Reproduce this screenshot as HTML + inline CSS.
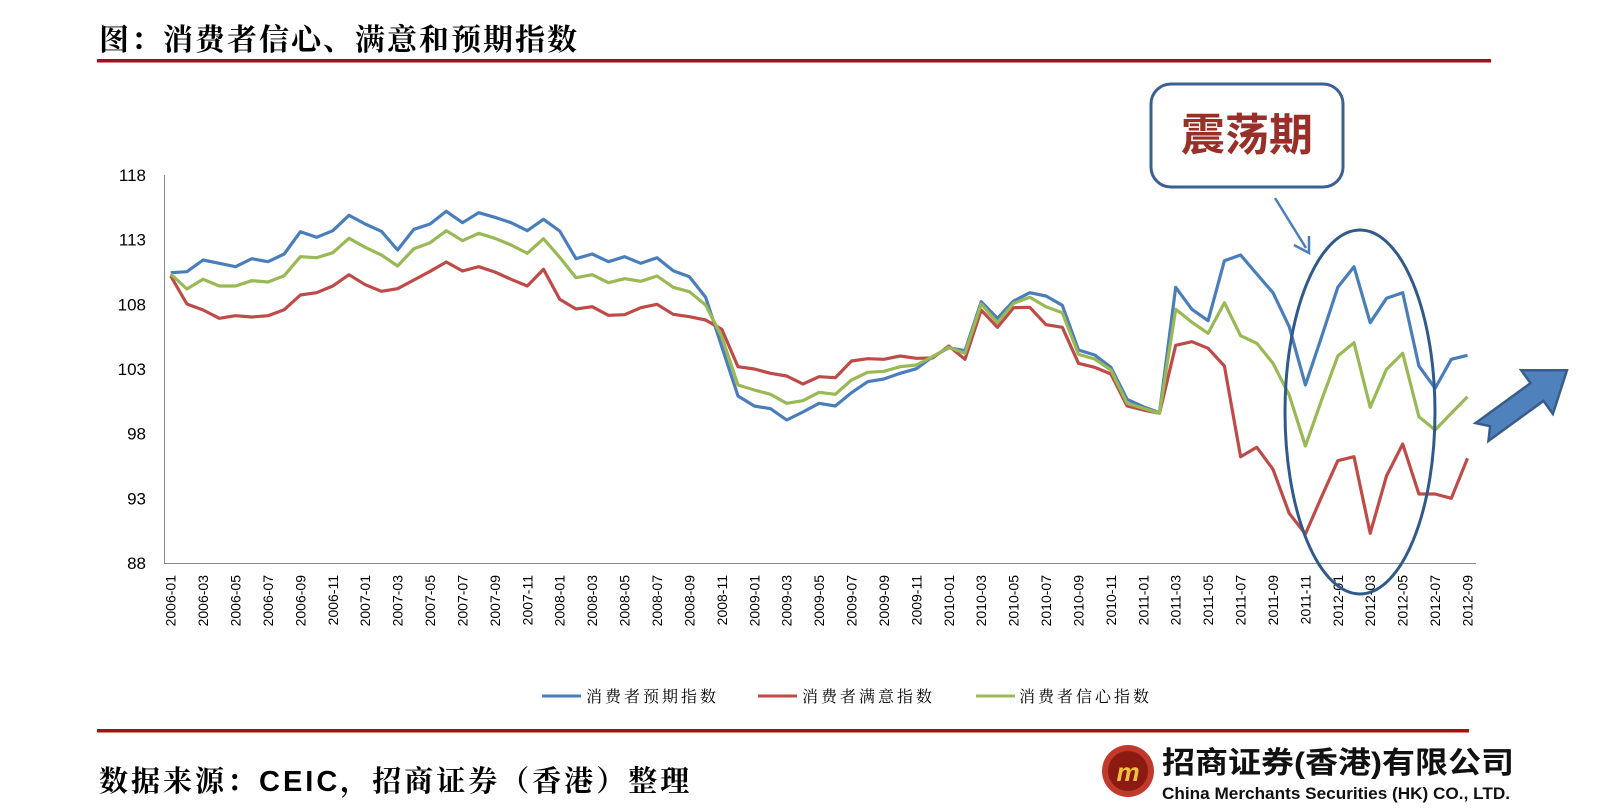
<!DOCTYPE html>
<html><head><meta charset="utf-8"><style>
html,body{margin:0;padding:0;background:#fff;}
svg{display:block;}
text{font-family:"Liberation Sans","Noto Sans CJK SC",sans-serif;}
.sf{font-family:"Liberation Sans","Noto Serif CJK SC",serif;}
</style></head><body>
<svg id="s" width="1599" height="812" viewBox="0 0 1599 812" xmlns="http://www.w3.org/2000/svg">
<text class="sf" x="99" y="50" font-size="30" font-weight="bold" fill="#000" letter-spacing="2">图：消费者信心、满意和预期指数</text>
<rect x="97" y="59" width="1394" height="3.5" fill="#a80f0f"/>
<rect x="97" y="729" width="1372" height="3.5" fill="#a80f0f"/>
<text class="sf" x="99" y="791" font-size="29" font-weight="bold" fill="#000" letter-spacing="3">数据来源：CEIC，招商证券（香港）整理</text>
<!-- logo -->
<circle cx="1128" cy="771" r="26" fill="#c0392b"/>
<circle cx="1128" cy="771" r="20" fill="#8b1a10"/>
<text x="1128" y="781" font-size="26" font-weight="bold" font-style="italic" fill="#f0c040" text-anchor="middle" font-family="Liberation Serif, serif">m</text>
<text x="1162" y="773" font-size="30" font-weight="bold" fill="#111" textLength="352" lengthAdjust="spacingAndGlyphs" font-family="Liberation Sans, Noto Serif CJK SC, serif">招商证券(香港)有限公司</text>
<text x="1162" y="799" font-size="17" font-weight="bold" fill="#111" textLength="348" lengthAdjust="spacingAndGlyphs">China Merchants Securities (HK) CO., LTD.</text>
<!-- axes -->
<line x1="164.5" y1="175" x2="164.5" y2="563" stroke="#888" stroke-width="1"/>
<line x1="164" y1="563.5" x2="1476" y2="563.5" stroke="#888" stroke-width="1"/>
<g id="yl" font-size="17" fill="#000" text-anchor="end"></g>
<g id="xl" font-size="14" fill="#000"></g>
<g id="lines" fill="none" stroke-width="3.2" stroke-linejoin="round"></g>
<!-- legend -->
<line x1="542" y1="696" x2="581" y2="696" stroke="#4a7ebb" stroke-width="3"/>
<text class="sf" x="586" y="702" font-size="16" letter-spacing="3">消费者预期指数</text>
<line x1="758" y1="696" x2="797" y2="696" stroke="#be4b48" stroke-width="3"/>
<text class="sf" x="802" y="702" font-size="16" letter-spacing="3">消费者满意指数</text>
<line x1="976" y1="696" x2="1015" y2="696" stroke="#98b954" stroke-width="3"/>
<text class="sf" x="1019" y="702" font-size="16" letter-spacing="3">消费者信心指数</text>
<!-- annotations -->
<rect x="1151" y="84" width="192" height="103" rx="20" ry="20" fill="#fff" stroke="#3a6191" stroke-width="3"/>
<text x="1247" y="150" font-size="44" font-weight="bold" fill="#9a2e28" text-anchor="middle" font-family="Noto Serif CJK SC, serif">震荡期</text>
<line x1="1275" y1="198" x2="1306" y2="248" stroke="#4a7ebb" stroke-width="2.5"/>
<polyline points="1294,245 1309,253 1309,236" fill="none" stroke="#4a7ebb" stroke-width="2.5"/>
<ellipse cx="1360" cy="412" rx="75" ry="182" fill="none" stroke="#2f5a8a" stroke-width="3"/>
<g transform="translate(1482,432) rotate(-36)">
<polygon points="0,-11 68,-11 68,-27 105,0 68,27 68,11 0,11 10,0" fill="#4f81bd" stroke="#385d8a" stroke-width="2.5" stroke-linejoin="miter"/>
</g>
</svg>
<script>
(function(){
var NS="http://www.w3.org/2000/svg";
var yl=document.getElementById('yl');
var vals=[118,113,108,103,98,93,88];
for(var i=0;i<vals.length;i++){var t=document.createElementNS(NS,'text');t.setAttribute('x',146);t.setAttribute('y',175+i*64.67+6);t.textContent=vals[i];yl.appendChild(t);}
var x0=170.7,dx=16.21;
var xl=document.getElementById('xl');
for(var k=0;k<81;k+=2){var yr=2006+Math.floor(k/12),m=k%12+1;var x=x0+k*dx+5;var t=document.createElementNS(NS,'text');t.setAttribute('transform','translate('+x+',575) rotate(-90)');t.setAttribute('text-anchor','end');t.textContent=yr+'-'+(m<10?'0':'')+m;xl.appendChild(t);}
function build(a,b,c){var r=[];a.slice(0,32).forEach(function(Y){r.push(160+Y/3)});b.forEach(function(Y){r.push(160+Y/3)});c.forEach(function(Y){r.push(70+Y/3)});return r;}
var blue=build([338,335,300,310,320,296,305,282,215,232,212,166,192,214,270,208,192,154,188,158,172,188,212,178,213,296,282,305,290,310,293,332],
[350,412,560,708,738,746,780,756,730,738,698,665,657,640,626,590,563,572,425,475,423,398,408,436,570,585,622,718,740,758],
[652,718,752,572,555,612,668,770,945,800,652,590,758,685,668,888,955,868,856]);
var green=build([342,387,358,378,378,362,366,347,290,293,278,235,262,285,318,266,248,212,242,220,235,255,280,236,292,353,344,368,356,364,348,382],
[395,435,530,675,690,703,730,722,697,703,660,637,634,620,615,590,562,580,432,488,430,412,440,458,583,597,630,730,745,760],
[718,757,790,698,797,820,880,975,1128,990,858,818,1012,898,850,1040,1080,1030,980]);
var red=build([348,432,450,475,467,471,467,449,405,398,378,344,374,394,386,360,334,306,333,320,336,358,378,328,418,447,440,466,464,443,433,463],
[470,480,508,620,627,640,648,672,650,653,603,596,598,588,595,594,558,598,450,502,443,442,494,502,610,622,642,738,750,760],
[826,815,835,888,1160,1132,1198,1330,1392,1280,1172,1160,1390,1218,1122,1272,1272,1285,1165]);
var g=document.getElementById('lines');
[[blue,'#4a7ebb'],[red,'#be4b48'],[green,'#98b954']].forEach(function(s){var p=s[0].map(function(y,i){return (x0+i*dx).toFixed(1)+','+y.toFixed(1)}).join(' ');var pl=document.createElementNS(NS,'polyline');pl.setAttribute('points',p);pl.setAttribute('stroke',s[1]);g.appendChild(pl);});
})();
</script>
</body></html>
